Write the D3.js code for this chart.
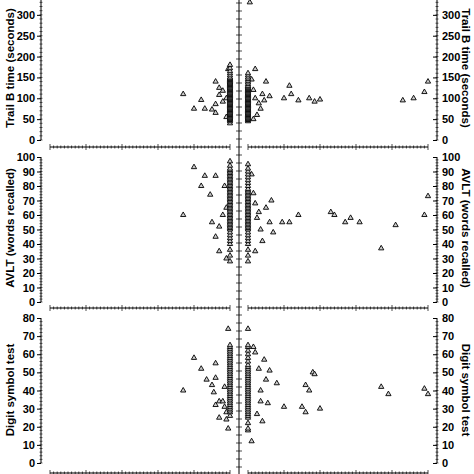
<!DOCTYPE html>
<html><head><meta charset="utf-8">
<script src="https://cdn.jsdelivr.net/npm/d3@7"></script>
<style>body{margin:0;background:#fff}text{font-family:"Liberation Sans",Arial,sans-serif;font-weight:bold;fill:#000}</style>
</head><body><svg id="c" width="474" height="474"></svg>
<script>
// panel labels and y ranges
var labelsL = ["Trail B time (seconds)", "AVLT (words recalled)", "Digit symbol test"];
var labelsR = ["Trail B time (seconds)", "AVLT (words recalled)", "Digit symbol test"];
var yMax = [350, 100, 80];
var yTickMax = [300, 100, 80];
var yStep = [50, 10, 10];
// panel pixel extents [top of max, zero]
var yPix = [[-6, 140], [157, 302], [318, 463]];
var labelMid = [68, 228, 390];

// scattered points: [x, y], left side x <= 0, right side x >= 0
var trailLeft = [[-13,110],[-10,75],[-8,96],[-7,75],[-5,73],[-4,140],[-4,86],[-4,65],[-3,125],[-3,108],[-2,118],[-2,92],[-1,100],[-1,55],[-0.5,170]];
var trailRight = [[0.5,330],[1,145],[2,170],[1.5,120],[2,100],[3,88],[3.5,75],[4,110],[5,140],[2.5,60],[4.5,95],[6,105],[1.5,50],[10,100],[11.5,130],[12,110],[14,95],[17,100],[18.5,92],[20,97],[43,95],[46,100],[49,115],[50,140]];
var avltLeft = [[-13,60],[-10,93],[-8,80],[-7,87],[-5.5,74],[-5,55],[-4,45],[-4,87],[-3,35],[-3,52],[-2,60],[-1.5,80],[-1,30],[-1,65]];
var avltRight = [[1,88],[1.5,75],[2,68],[2.5,58],[3,62],[3.5,50],[4,42],[5,65],[6,55],[6.5,70],[7,48],[2,35],[9.5,55],[11.5,55],[14,60],[23,62],[24,60],[27,55],[28.5,58],[31,55],[37,37],[41,53],[50,73],[49,60]];
var digitLeft = [[-13,40],[-10,58],[-8,52],[-6.5,46],[-5,43],[-4.5,39],[-4,55],[-4,32],[-4,47],[-3,25],[-3,34],[-2,34],[-1.5,31],[-1.5,42],[-1,24],[-1,28],[-0.5,19],[-0.5,74]];
var digitRight = [[1,12],[1.5,64],[2,61],[2.5,27],[3,52],[3.5,40],[3.5,34],[4,23],[4.5,57],[5,46],[5.5,33],[6,51],[8,44],[10,31],[15,31],[16,43],[16,28],[17,40],[18,50],[18.5,49],[20,30],[37,42],[39,38],[49,41],[50,38]];
var scatterL = [trailLeft, avltLeft, digitLeft];
var scatterR = [trailRight, avltRight, digitRight];

// dense columns at x = 0 on each side (y values)
var colTrailL = [40,45,48,50,52,54,56,58,60,62,64,66,68,70,72,74,76,78,80,82,84,86,88,90,92,94,96,98,100,102,104,106,108,110,112,114,116,118,120,122,124,126,128,130,132,134,136,138,140,142,144,146,148,150,155,160,165,172,180];
var colTrailR = [45,48,50,52,54,56,58,60,62,64,66,68,70,72,74,76,78,80,82,84,86,88,90,92,94,96,98,100,102,104,106,108,110,112,114,116,118,120,122,124,126,128,130,134,138,142,146,150,155,160];
var colAvltL = [28,32,36,40,42,44,46,48,50,51,52,53,54,55,56,57,58,59,60,61,62,63,64,65,66,67,68,69,70,71,72,73,74,75,76,77,78,79,80,81,82,83,84,85,86,87,88,89,90,91,92,94,97];
var colAvltR = [28,32,36,40,42,44,46,48,50,51,52,53,54,55,56,57,58,59,60,61,62,63,64,65,66,67,68,69,70,71,72,73,74,75,76,77,78,80,82,84,86,88,90,92,95];
var colDigitL = [26,28,29,30,31,32,33,34,35,36,37,38,39,40,41,42,43,44,45,46,47,48,49,50,51,52,53,54,55,56,57,58,59,60,61,62,63,64,65];
var colDigitR = [18,19,22,25,26,27,28,29,30,31,32,33,34,35,36,37,38,39,40,41,42,43,44,45,46,47,48,49,50,51,52,53,54,56,58,60,62,64,65,74];
var colL = [colTrailL, colAvltL, colDigitL];
var colR = [colTrailR, colAvltR, colDigitR];

var svg = d3.select("#c");
var xL = d3.scaleLinear().domain([-50, 0]).range([50, 230]);
var xR = d3.scaleLinear().domain([0, 50]).range([248, 428]);
var sym = d3.symbol().type(d3.symbolTriangle).size(12);

// horizontal tick rules above/below panels
var rulesY = [147, 308, 473];
function hRule(x, y) {
  svg.append("line").attr("x1", x.range()[0]).attr("x2", x.range()[1]).attr("y1", y).attr("y2", y).attr("stroke", "#000");
  d3.range(-50, 51, 1).filter(function(v){ return v >= x.domain()[0] && v <= x.domain()[1]; }).forEach(function(v){
    var h = v % 10 === 0 ? 3 : 1.5;
    svg.append("line").attr("x1", x(v)).attr("x2", x(v)).attr("y1", y - h).attr("y2", y + h).attr("stroke", "#000").attr("stroke-width", 0.7);
  });
}
rulesY.forEach(function(y){ hRule(xL, y); hRule(xR, y); });

// center axis
svg.append("line").attr("x1", 239).attr("x2", 239).attr("y1", 0).attr("y2", 474).attr("stroke", "#000");
d3.range(3, 474, 8).forEach(function(y){
  svg.append("line").attr("x1", 236).attr("x2", 242).attr("y1", y).attr("y2", y).attr("stroke", "#000").attr("stroke-width", 0.7);
});

yMax.forEach(function(m, i){
  var y = d3.scaleLinear().domain([0, m]).range([yPix[i][1], yPix[i][0]]);
  var ticks = d3.range(0, yTickMax[i] + 1, yStep[i]);
  var gl = svg.append("g").attr("transform", "translate(41,0)")
    .call(d3.axisLeft(y).tickValues(ticks).tickSize(4).tickPadding(2));
  var gr = svg.append("g").attr("transform", "translate(437,0)")
    .call(d3.axisRight(y).tickValues(ticks).tickSize(-4).tickPadding(5));
  [gl, gr].forEach(function(g){
    g.select(".domain").remove();
    g.selectAll("text").style("font-size", "11px").style("font-weight", "bold").attr("fill", "#000");
  });
  [41, 437].forEach(function(ax){
    svg.append("line").attr("x1", ax).attr("x2", ax).attr("y1", Math.max(0, y(m))).attr("y2", y(0)).attr("stroke", "#000");
    d3.range(0, m, yStep[i] / 5).forEach(function(v){
      svg.append("line").attr("x1", ax - 1.5).attr("x2", ax + 1.5).attr("y1", y(v)).attr("y2", y(v)).attr("stroke", "#000").attr("stroke-width", 0.6);
    });
  });
  svg.append("text").attr("transform", "translate(14," + labelMid[i] + ") rotate(-90)").attr("text-anchor", "middle").style("font-size", "11.5px").text(labelsL[i]);
  svg.append("text").attr("transform", "translate(462," + labelMid[i] + ") rotate(90)").attr("text-anchor", "middle").style("font-size", "11.5px").text(labelsR[i]);

  var pts = scatterL[i].map(function(d){ return [xL(d[0]), y(d[1])]; })
    .concat(scatterR[i].map(function(d){ return [xR(d[0]), y(d[1])]; }))
    .concat(colL[i].map(function(v){ return [xL(0), y(v)]; }))
    .concat(colR[i].map(function(v){ return [xR(0), y(v)]; }));
  svg.append("g").selectAll("path").data(pts).enter().append("path")
    .attr("d", sym).attr("transform", function(d){ return "translate(" + d[0] + "," + d[1] + ")"; })
    .attr("fill", "#ccc").attr("stroke", "#000").attr("stroke-width", 0.9);
});
</script></body></html>
